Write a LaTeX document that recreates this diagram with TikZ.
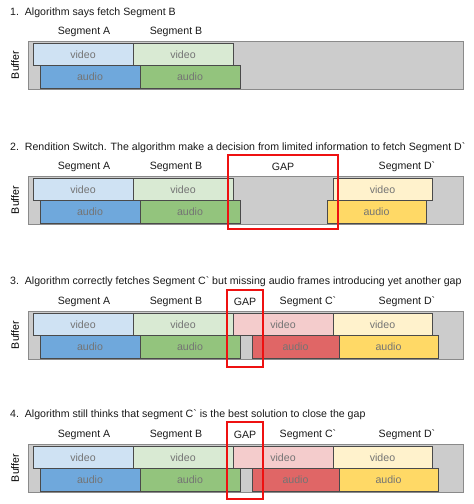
\documentclass[tikz,border=0pt]{standalone}
\usepackage{fontspec}
\setmainfont{Liberation Sans}
\definecolor{vA}{HTML}{CFE2F3}
\definecolor{aA}{HTML}{6FA8DC}
\definecolor{vB}{HTML}{D9EAD3}
\definecolor{aB}{HTML}{93C47D}
\definecolor{vC}{HTML}{F4CCCC}
\definecolor{aC}{HTML}{E06666}
\definecolor{vD}{HTML}{FFF2CC}
\definecolor{aD}{HTML}{FFD966}
\definecolor{bufgray}{HTML}{CCCCCC}
\definecolor{bufline}{HTML}{8A8A8A}
\definecolor{blkline}{HTML}{4A4A4A}
\definecolor{blktext}{HTML}{747474}
\definecolor{gapred}{HTML}{EE1111}
\begin{document}
\begin{tikzpicture}[x=1pt,y=-1pt,
  title/.style={anchor=west,font=\fontsize{10.6}{12}\selectfont,text=black!90,inner sep=0},
  seglabel/.style={font=\fontsize{10.6}{12}\selectfont,text=black!90,inner sep=0},
  buffer/.style={fill=bufgray,draw=bufline,line width=1pt},
  blk/.style={draw=blkline,line width=0.7pt,inner sep=0,outer sep=0,anchor=north west,
    text=blktext,font=\fontsize{10.6}{12}\selectfont,minimum height=22.5pt},
  gapbox/.style={draw=gapred,line width=1.8pt},
  buflabel/.style={rotate=90,font=\fontsize{10.6}{12}\selectfont,inner sep=0}]
\useasboundingbox (0,0) rectangle (474,504);

% ---------- Panel 1 ----------
\begin{scope}[yshift=0]
\node[title] (t1) at (10,12.5) {1.\ \ Algorithm says fetch Segment B};
\node[seglabel] (l1a) at (84,32) {Segment A};
\node[seglabel] (l1b) at (176,32) {Segment B};
\draw[buffer] (28,41) rectangle (463,89);
\node[buflabel] (b1) at (15,65) {Buffer};
\node[blk,fill=vA,minimum width=100pt] (v1a) at (33,43) {video};
\node[blk,fill=vB,minimum width=100pt] (v1b) at (133,43) {video};
\node[blk,fill=aA,minimum width=100pt] (a1a) at (40,65.5) {audio};
\node[blk,fill=aB,minimum width=100pt] (a1b) at (140,65.5) {audio};
\end{scope}

% ---------- Panel 2 ----------
\begin{scope}[yshift=-135pt]
\node[title] (t2) at (10,12.5) {2.\ \ Rendition Switch. The algorithm make a decision from limited information to fetch Segment D\textasciigrave};
\node[seglabel] (l2a) at (84,32) {Segment A};
\node[seglabel] (l2b) at (176,32) {Segment B};
\node[seglabel] (l2g) at (283,32) {GAP};
\node[seglabel] (l2d) at (407,32) {Segment D\textasciigrave};
\draw[buffer] (28,41) rectangle (463,89);
\node[buflabel] (b2) at (15,65) {Buffer};
\node[blk,fill=vA,minimum width=100pt] (v2a) at (33,43) {video};
\node[blk,fill=vB,minimum width=100pt] (v2b) at (133,43) {video};
\node[blk,fill=vD,minimum width=99pt] (v2d) at (333,43) {video};
\node[blk,fill=aA,minimum width=100pt] (a2a) at (40,65.5) {audio};
\node[blk,fill=aB,minimum width=100pt] (a2b) at (140,65.5) {audio};
\node[blk,fill=aD,minimum width=99pt] (a2d) at (327,65.5) {audio};
\draw[gapbox] (228,20) rectangle (338,94);
\end{scope}

% ---------- Panel 3 ----------
\begin{scope}[yshift=-270pt]
\node[title] (t3) at (10,12) {3.\ \ Algorithm correctly fetches Segment C\textasciigrave\ but missing audio frames introducing yet another gap};
\node[seglabel] (l3a) at (84,32) {Segment A};
\node[seglabel] (l3b) at (176,32) {Segment B};
\node[seglabel] (l3g) at (245,32) {GAP};
\node[seglabel] (l3c) at (308,32) {Segment C\textasciigrave};
\node[seglabel] (l3d) at (407,32) {Segment D\textasciigrave};
\draw[buffer] (28,41) rectangle (463,89);
\node[buflabel] (b3) at (15,65) {Buffer};
\node[blk,fill=vA,minimum width=100pt] (v3a) at (33,43) {video};
\node[blk,fill=vB,minimum width=100pt] (v3b) at (133,43) {video};
\node[blk,fill=vC,minimum width=100pt] (v3c) at (233,43) {video};
\node[blk,fill=vD,minimum width=99pt] (v3d) at (333,43) {video};
\node[blk,fill=aA,minimum width=100pt] (a3a) at (40,65.5) {audio};
\node[blk,fill=aB,minimum width=100pt] (a3b) at (140,65.5) {audio};
\node[blk,fill=aC,minimum width=87pt] (a3c) at (252,65.5) {audio};
\node[blk,fill=aD,minimum width=99pt] (a3d) at (339,65.5) {audio};
\draw[gapbox] (227,20) rectangle (263,97);
\end{scope}

% ---------- Panel 4 ----------
\begin{scope}[yshift=-403pt]
\node[title] (t4) at (10,12) {4.\ \ Algorithm still thinks that segment C\textasciigrave\ is the best solution to close the gap};
\node[seglabel] (l4a) at (84,32) {Segment A};
\node[seglabel] (l4b) at (176,32) {Segment B};
\node[seglabel] (l4g) at (245,32) {GAP};
\node[seglabel] (l4c) at (308,32) {Segment C\textasciigrave};
\node[seglabel] (l4d) at (407,32) {Segment D\textasciigrave};
\draw[buffer] (28,41) rectangle (463,89);
\node[buflabel] (b4) at (15,65) {Buffer};
\node[blk,fill=vA,minimum width=100pt] (v4a) at (33,43) {video};
\node[blk,fill=vB,minimum width=100pt] (v4b) at (133,43) {video};
\node[blk,fill=vC,minimum width=100pt] (v4c) at (233,43) {video};
\node[blk,fill=vD,minimum width=99pt] (v4d) at (333,43) {video};
\node[blk,fill=aA,minimum width=100pt] (a4a) at (40,65.5) {audio};
\node[blk,fill=aB,minimum width=100pt] (a4b) at (140,65.5) {audio};
\node[blk,fill=aC,minimum width=87pt] (a4c) at (252,65.5) {audio};
\node[blk,fill=aD,minimum width=99pt] (a4d) at (339,65.5) {audio};
\draw[gapbox] (227,19) rectangle (263,96);
\end{scope}
\end{tikzpicture}
\end{document}
